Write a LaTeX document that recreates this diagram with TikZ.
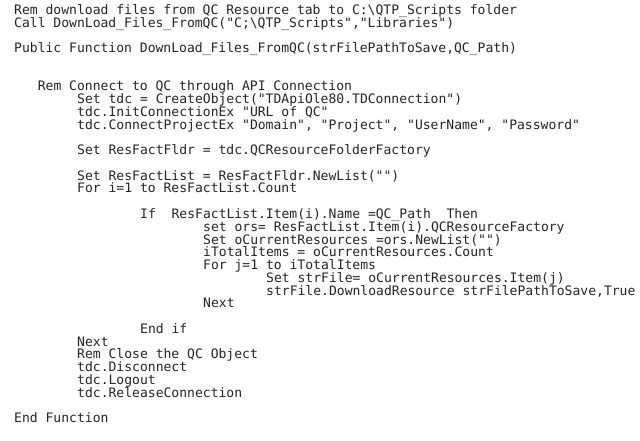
\documentclass[tikz,border=0pt]{standalone}
\usepackage{fontspec}
\setmonofont{DejaVu Sans Mono}
\begin{document}
\begin{tikzpicture}[x=1pt,y=-1pt,
  code/.style={anchor=base west,inner sep=0pt,text=black!85,font=\ttfamily\fontsize{13.05}{15}\selectfont}]
\useasboundingbox (0,0) rectangle (640,441);
\fill[white] (0,0) rectangle (640,441);
\def\L#1{14.5+(#1-1)*12.75}
\node[code] (l1) at (14,{\L{1}}) {Rem download files from QC Resource tab to C:\textbackslash QTP\_Scripts folder};
\node[code] (l2) at (14,{\L{2}}) {Call DownLoad\_Files\_FromQC("C;\textbackslash QTP\_Scripts","Libraries")};
\node[code] (l4) at (14,{\L{4}}) {Public Function DownLoad\_Files\_FromQC(strFilePathToSave,QC\_Path)};
\node[code] (l7) at (37.6,{\L{7}}) {Rem Connect to QC through API Connection};
\node[code] (l8) at (77,{\L{8}}) {Set tdc = CreateObject("TDApiOle80.TDConnection")};
\node[code] (l9) at (77,{\L{9}}) {tdc.InitConnectionEx "URL of QC"};
\node[code] (l10) at (77,{\L{10}}) {tdc.ConnectProjectEx "Domain", "Project", "UserName", "Password"};
\node[code] (l12) at (77,{\L{12}}) {Set ResFactFldr = tdc.QCResourceFolderFactory};
\node[code] (l14) at (77,{\L{14}}) {Set ResFactList = ResFactFldr.NewList("")};
\node[code] (l15) at (77,{\L{15}}) {For i=1 to ResFactList.Count};
\node[code] (l17) at (140,{\L{17}}) {If\ \ ResFactList.Item(i).Name =QC\_Path\ \ Then};
\node[code] (l18) at (203,{\L{18}}) {set ors= ResFactList.Item(i).QCResourceFactory};
\node[code] (l19) at (203,{\L{19}}) {Set oCurrentResources =ors.NewList("")};
\node[code] (l20) at (203,{\L{20}}) {iTotalItems = oCurrentResources.Count};
\node[code] (l21) at (203,{\L{21}}) {For j=1 to iTotalItems};
\node[code] (l22) at (266,{\L{22}}) {Set strFile= oCurrentResources.Item(j)};
\node[code] (l23) at (266,{\L{23}}) {strFile.DownloadResource strFilePathToSave,True};
\node[code] (l24) at (203,{\L{24}}) {Next};
\node[code] (l26) at (140,{\L{26}}) {End if};
\node[code] (l27) at (77,{\L{27}}) {Next};
\node[code] (l28) at (77,{\L{28}}) {Rem Close the QC Object};
\node[code] (l29) at (77,{\L{29}}) {tdc.Disconnect};
\node[code] (l30) at (77,{\L{30}}) {tdc.Logout};
\node[code] (l31) at (77,{\L{31}}) {tdc.ReleaseConnection};
\node[code] (l33) at (14,{\L{33}}) {End Function};
\end{tikzpicture}
\end{document}
